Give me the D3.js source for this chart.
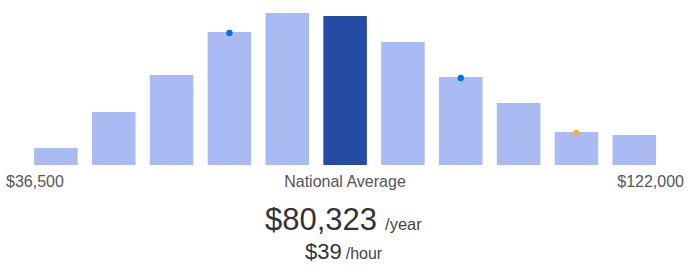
<html>
<script src="https://cdn.jsdelivr.net/npm/d3@7"></script>
<body style="margin:0;background:#fff">
<svg width=698 height=267></svg>
</body>
<script>

// salary distribution bins (relative heights)
var bins = [0,1,2,3,4,5,6,7,8,9,10];
var counts = [17,53,90,133,152,149,123,88,62,33,30];
var highlight = 5; // national average bin
var markerBins = [3,7,9];
var markerColors = ["#0b6fe0","#0b6fe0","#f7a94f"];

var minLabel = "$36,500";
var maxLabel = "$122,000";
var midLabel = "National Average";
var yearly = "$80,323";
var hourly = "$39";

var svg = d3.select("svg");

var x = d3.scaleBand().domain(bins).range([27.2, 663])
  .paddingInner(0.247).paddingOuter(0.12);
var y = d3.scaleLinear().domain([0, 152]).range([165, 13]);

svg.selectAll("rect.bar").data(bins).enter().append("rect")
  .attr("class","bar")
  .attr("x", function(d){ return x(d); })
  .attr("y", function(d){ return y(counts[d]); })
  .attr("width", x.bandwidth())
  .attr("height", function(d){ return y(0) - y(counts[d]); })
  .attr("fill", function(d){ return d === highlight ? "#264ba5" : "#aabbf3"; });

// little dots sitting on some bars
svg.selectAll("circle.mark").data(markerBins).enter().append("circle")
  .attr("class","mark")
  .attr("cx", function(d){ return x(d) + x.bandwidth()/2; })
  .attr("cy", function(d){ return y(counts[d]) + 1; })
  .attr("r", 3.2)
  .attr("fill", function(d,i){ return markerColors[i]; });

var font = "Liberation Sans, Arial, Helvetica, sans-serif";

svg.append("text").attr("x", 6).attr("y", 187)
  .attr("font-family", font).attr("font-size", 16).attr("fill", "#555")
  .text(minLabel);
svg.append("text").attr("x", 684).attr("y", 187).attr("text-anchor","end")
  .attr("font-family", font).attr("font-size", 16).attr("fill", "#555")
  .text(maxLabel);
svg.append("text").attr("x", 345).attr("y", 187).attr("text-anchor","middle")
  .attr("font-family", font).attr("font-size", 16).attr("fill", "#555")
  .text(midLabel);

var t1 = svg.append("text").attr("x", 265).attr("y", 230)
  .attr("font-family", font).attr("fill", "#333");
t1.append("tspan").attr("font-size", 31).text(yearly);
t1.append("tspan").attr("font-size", 16.5).attr("fill","#444").attr("dx", 8).text("/year");

var t2 = svg.append("text").attr("x", 305).attr("y", 259)
  .attr("font-family", font).attr("fill", "#333");
t2.append("tspan").attr("font-size", 22).text(hourly);
t2.append("tspan").attr("font-size", 16).attr("fill","#444").attr("dx", 4).text("/hour");

</script>
</html>
